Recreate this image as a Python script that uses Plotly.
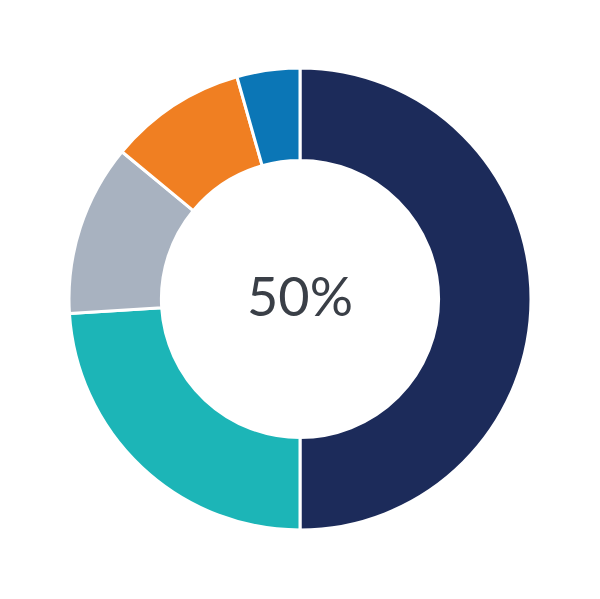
import plotly.graph_objects as go

labels = ["A", "B", "C", "D", "E"]
values = [50, 24, 12, 9.6, 4.4]
colors = ["#1c2b5a", "#1cb5b7", "#a8b2c0", "#f07f22", "#0b76b6"]
center_text = "50%"

fig = go.Figure(go.Pie(
    labels=labels, values=values, hole=0.60, sort=False,
    direction="clockwise", rotation=0,
    marker=dict(colors=colors, line=dict(color="white", width=3)),
    textinfo="none", hoverinfo="label+percent", showlegend=False,
))
fig.add_annotation(text=center_text, x=0.5, y=0.5, xref="paper", yref="paper",
                   showarrow=False, yshift=4,
                   font=dict(family="Lato", size=54, color="#3a3f47"))
fig.update_layout(width=600, height=599, margin=dict(l=61, r=77, t=60, b=77),
                  paper_bgcolor="white", plot_bgcolor="white")
fig.write_html("out.html")
